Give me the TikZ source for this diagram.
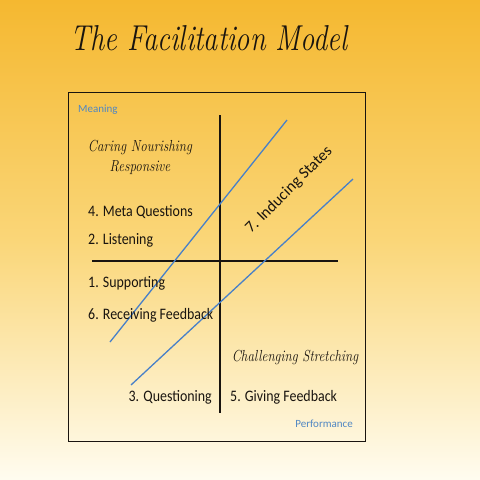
\documentclass[tikz,border=0pt]{standalone}
\usepackage{fontspec}
\setmainfont{Carlito}[FakeStretch=0.87]
\newfontfamily\bodywide{Carlito}
\newfontfamily\scriptfam{Latin Modern Roman}
\definecolor{bgtop}{RGB}{245,184,48}
\definecolor{bgmid}{RGB}{250,214,120}
\definecolor{bgbot}{RGB}{255,252,240}
\definecolor{lineblue}{RGB}{72,128,200}
\definecolor{labblue}{RGB}{80,135,195}
\definecolor{ink}{RGB}{25,20,15}
\tikzset{
  body/.style={font=\fontsize{16}{18}\selectfont, text=ink, inner sep=0pt},
  scripttxt/.style={font=\scriptfam\itshape\fontsize{16}{19}\selectfont, text=ink, inner sep=0pt, align=center, xscale=0.82},
  axislab/.style={font=\bodywide\fontsize{11}{13}\selectfont, text=labblue, inner sep=0pt},
  frame/.style={draw=ink, line width=1pt},
  axis/.style={draw=ink, line width=1.2pt},
  diag/.style={draw=lineblue, line width=1.3pt}
}
\begin{document}
\begin{tikzpicture}[x=1pt,y=-1pt]
\useasboundingbox (0,0) rectangle (480,480);
\shade[top color=bgtop, bottom color=bgbot, middle color=bgmid] (0,0) rectangle (480,480);
% title
\node[font=\scriptfam\itshape\fontsize{36}{40}\selectfont, text=ink, inner sep=0pt, xscale=0.79] (title) at (209,38) {The Facilitation Model};
% frame
\draw[frame] (68,92) rectangle (365,441);
% axes
\coordinate (vt) at (220,115);
\coordinate (vb) at (220,413);
\coordinate (hl) at (92,261);
\coordinate (hr) at (338,261);
\draw[axis] (vt) -- (vb);
\draw[axis] (hl) -- (hr);
% diagonals
\coordinate (d1a) at (110,342);
\coordinate (d1b) at (287,120);
\coordinate (d2a) at (131,385);
\coordinate (d2b) at (353,179);
\draw[diag] (d1a) -- (d1b);
\draw[diag] (d2a) -- (d2b);
% labels
\node[axislab, anchor=west] (meaning) at (78,110) {Meaning};
\node[axislab, anchor=east] (perf) at (353,424) {Performance};
\node[scripttxt] (caring) at (140,157) {Caring Nourishing\\[1pt]Responsive};
\node[scripttxt, anchor=center] (chall) at (295,357) {Challenging Stretching};
\node[body, anchor=west] (meta) at (88,212) {4. Meta Questions};
\node[body, anchor=west] (listen) at (88,240) {2. Listening};
\node[body, anchor=west] (supp) at (88,283) {1. Supporting};
\node[body, anchor=west] (recv) at (88,315) {6. Receiving Feedback};
\node[body, anchor=east] (quest) at (212,397) {3. Questioning};
\node[body, anchor=west] (give) at (230,397) {5. Giving Feedback};
\node[body, font=\bodywide\fontsize{16}{18}\selectfont, rotate=45] (induce) at (289,190) {7. Inducing States};
\end{tikzpicture}
\end{document}
